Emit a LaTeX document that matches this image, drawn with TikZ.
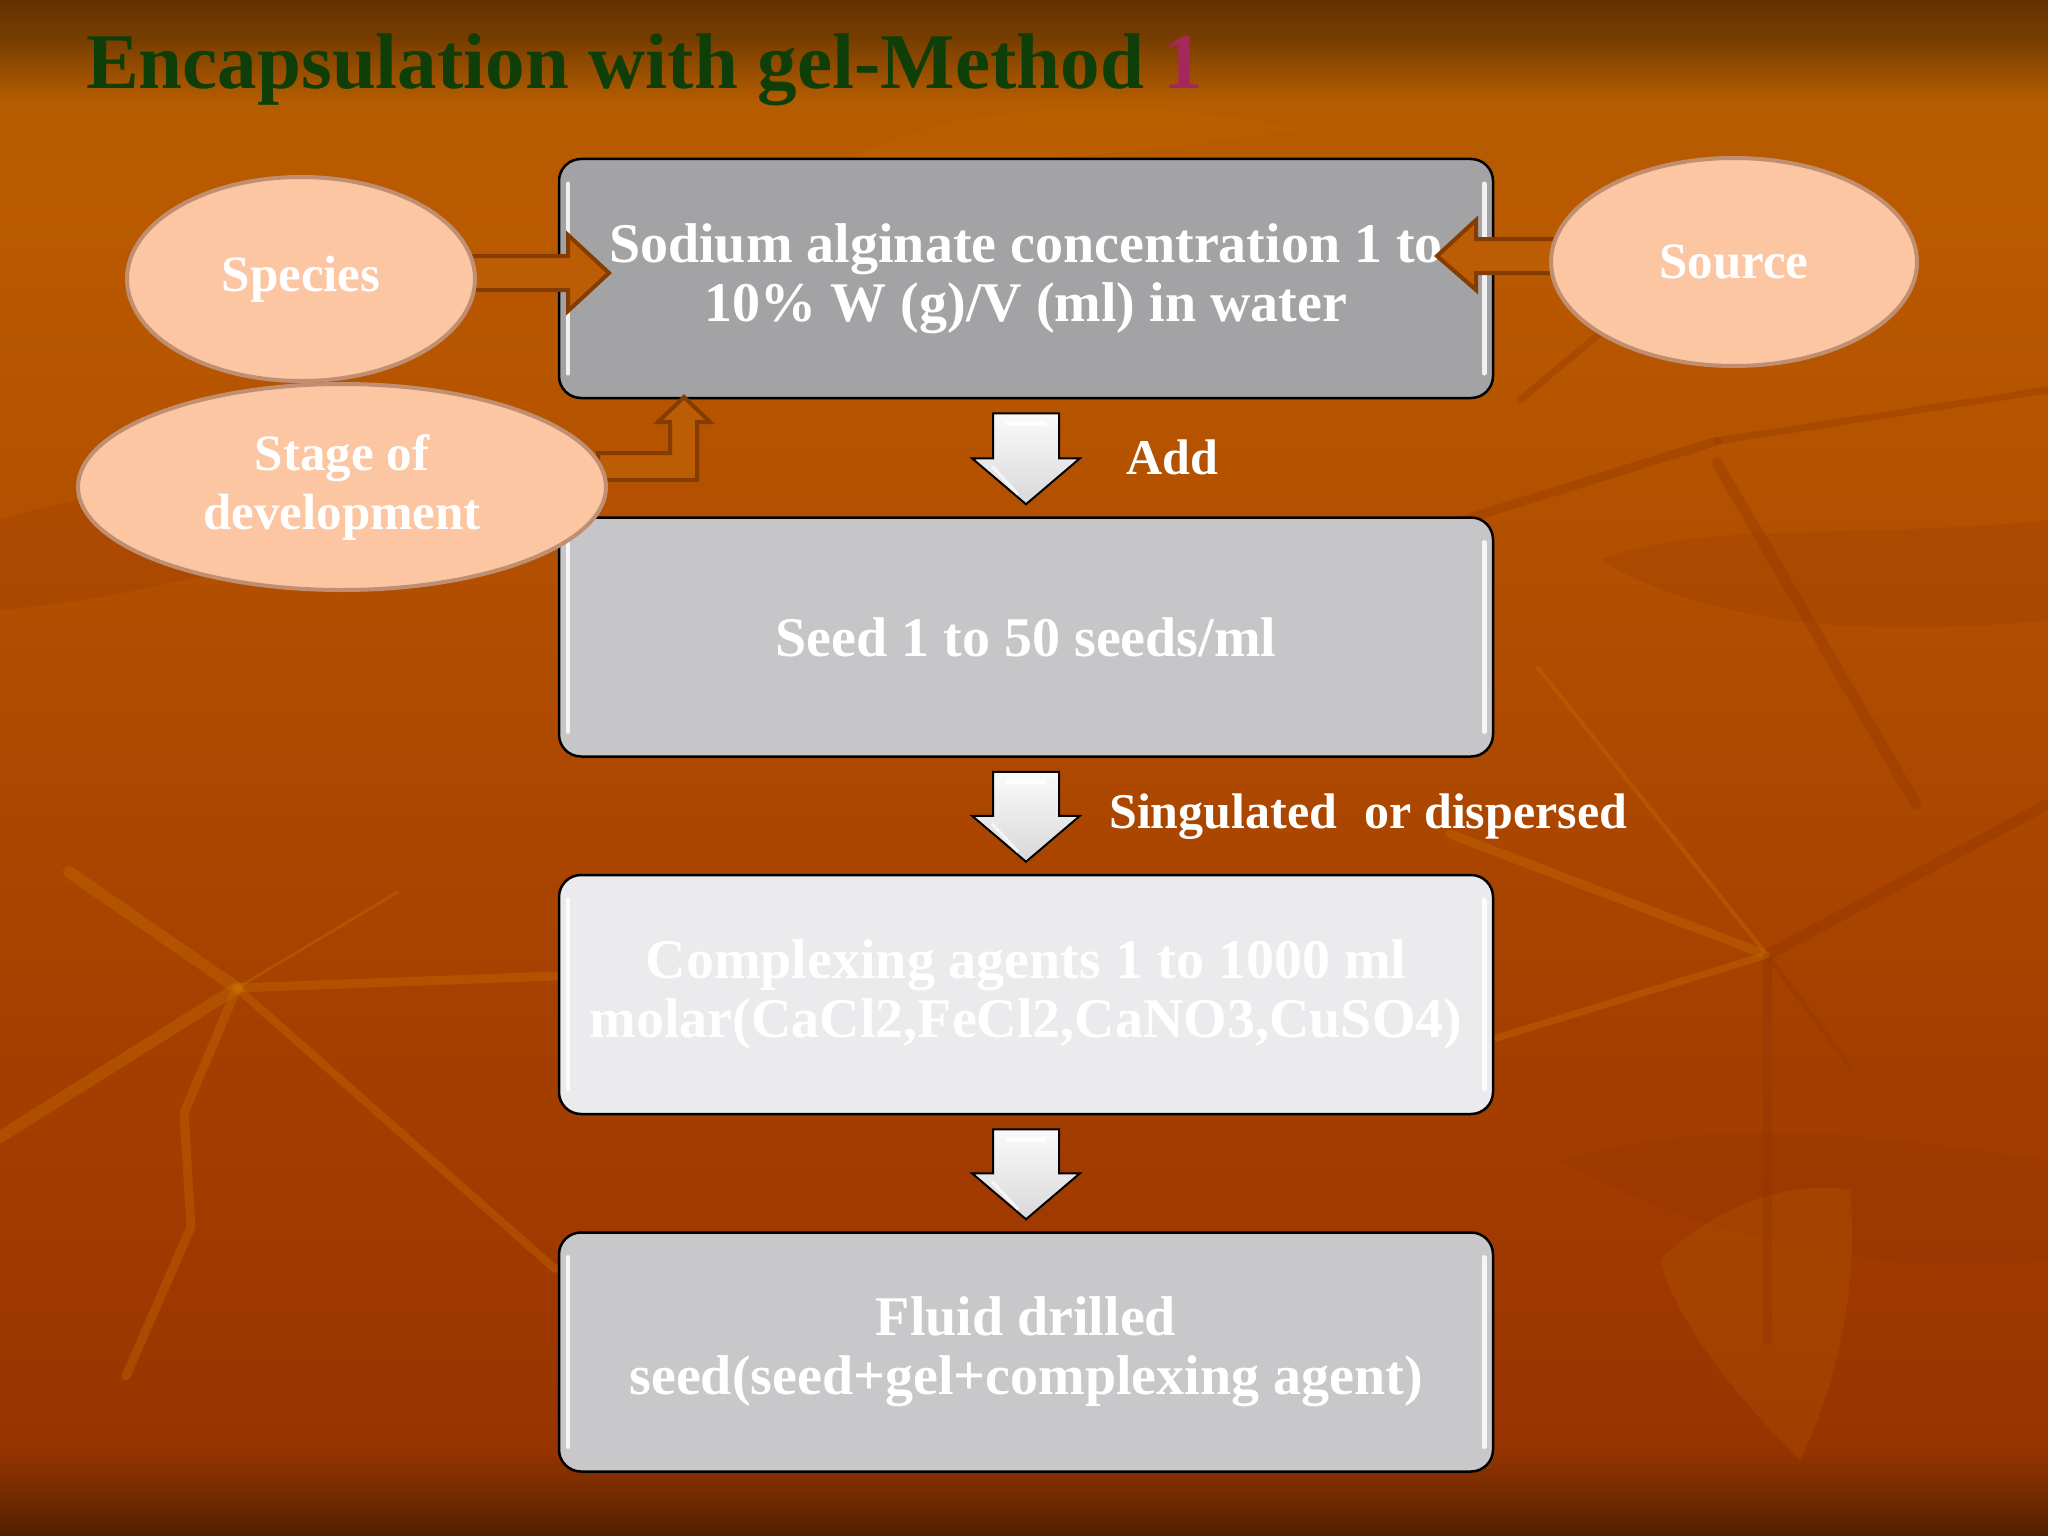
\documentclass[tikz,border=0pt]{standalone}
\usepackage{fontspec}
\setmainfont{Liberation Serif}
\usetikzlibrary{shapes.geometric}

\definecolor{titlegreen}{RGB}{16,62,8}
\definecolor{titlered}{RGB}{165,40,90}
\definecolor{peach}{RGB}{252,198,162}
\definecolor{peachborder}{RGB}{192,142,112}
\definecolor{arrowfill}{RGB}{188,92,4}
\definecolor{arrowdraw}{RGB}{132,60,0}
\definecolor{boxA}{RGB}{163,163,165}
\definecolor{boxB}{RGB}{198,198,200}
\definecolor{boxC}{RGB}{235,235,238}
\definecolor{boxD}{RGB}{200,200,202}
\definecolor{dnfill}{RGB}{226,226,228}
\definecolor{lightbranch}{RGB}{200,112,0}
\definecolor{darkbranch}{RGB}{140,50,0}

\definecolor{bgtop}{RGB}{98,50,0}
\definecolor{bgA}{RGB}{120,62,0}
\definecolor{bgB}{RGB}{180,92,0}
\definecolor{bgC}{RGB}{186,90,0}
\definecolor{bgD}{RGB}{178,78,0}
\definecolor{bgE}{RGB}{166,64,0}
\definecolor{bgF}{RGB}{158,56,0}
\definecolor{bgG}{RGB}{150,52,0}
\definecolor{bgH}{RGB}{112,42,0}
\definecolor{bgbot}{RGB}{80,30,0}

\pgfdeclareverticalshading{bgshade}{100bp}{color(0bp)=(bgbot); color(25bp)=(bgbot); color(26.17bp)=(bgH); color(27.8bp)=(bgG); color(32.68bp)=(bgF); color(42.45bp)=(bgE); color(55.47bp)=(bgD); color(68.49bp)=(bgC); color(71.74bp)=(bgB); color(73.7bp)=(bgA); color(75bp)=(bgtop); color(100bp)=(bgtop)}

\tikzset{
  flowbox/.style={draw=black, line width=2.5pt, rounded corners=22pt,
    minimum width=934pt, minimum height=239pt, inner sep=0pt,
    align=center, text=white, font=\fontsize{56}{59}\selectfont\bfseries},
  oval/.style={ellipse, draw=peachborder, line width=4pt, fill=peach, inner sep=0pt,
    align=center, text=white, font=\fontsize{51}{59}\selectfont\bfseries},
  blockarrow/.style={draw=arrowdraw, line width=4pt, fill=arrowfill, line join=miter},
  dnarrow/.style={draw=black, line width=2pt, top color=white!85!dnfill, bottom color=dnfill!90!gray, line join=miter},
  hilite/.style={draw=white, line width=4.5pt, line cap=round, opacity=0.85},
  steplabel/.style={anchor=base west, inner sep=0pt, text=white, font=\fontsize{50}{59}\selectfont\bfseries},
  branchL/.style={draw=lightbranch, line cap=round, line join=round, opacity=0.35},
  branchD/.style={draw=darkbranch, line cap=round, line join=round, opacity=0.3},
  leaf/.style={fill=#1, opacity=0.18, draw=none},
}

\newcommand\flowarrow[2]{%
  \path ([yshift=-14pt]#1.south) coordinate (fa-top) ([yshift=12pt]#2.north) coordinate (fa-tip);
  \draw[dnarrow] ([xshift=-33pt]fa-top) -- ([xshift=33pt]fa-top) -- ([xshift=33pt,yshift=46pt]fa-tip)
    -- ([xshift=54pt,yshift=46pt]fa-tip) -- (fa-tip) -- ([xshift=-54pt,yshift=46pt]fa-tip)
    -- ([xshift=-33pt,yshift=46pt]fa-tip) -- cycle;
  \draw[draw=white, line width=5pt, opacity=0.8] ([xshift=-20pt,yshift=-10pt]fa-top) -- ([xshift=20pt,yshift=-10pt]fa-top);
  \draw[draw=white, line width=3pt, opacity=0.7] ([xshift=-34pt,yshift=38pt]fa-tip) -- ([xshift=-8pt,yshift=10pt]fa-tip);
}

\begin{document}
\begin{tikzpicture}[x=1pt,y=-1pt]
\useasboundingbox (0,0) rectangle (2048,1536);
% background
\shade[shading=bgshade] (0,0) rectangle (2048,1536);
% faint leaves
\fill[leaf=lightbranch] (850,160) .. controls (950,100) and (1150,95) .. (1300,130) .. controls (1150,150) and (1000,170) .. (850,160) -- cycle;
\fill[leaf=darkbranch] (0,520) .. controls (120,480) and (300,470) .. (420,500) .. controls (300,560) and (120,600) .. (0,610) -- cycle;
\fill[leaf=darkbranch] (1560,1160) .. controls (1700,1120) and (1850,1130) .. (2048,1160) -- (2048,1260) .. controls (1900,1280) and (1700,1240) .. (1560,1160) -- cycle;
\fill[leaf=lightbranch] (1660,1260) .. controls (1720,1200) and (1800,1180) .. (1850,1190) .. controls (1860,1300) and (1830,1400) .. (1800,1460) .. controls (1740,1400) and (1680,1330) .. (1660,1260) -- cycle;
\fill[leaf=darkbranch] (1600,560) .. controls (1700,520) and (1850,540) .. (2048,520) -- (2048,620) .. controls (1850,640) and (1700,620) .. (1600,560) -- cycle;
% branches lower left
\coordinate (h1) at (237,988);
\draw[branchL, line width=12pt] (h1) -- (69,872);
\draw[branchL, line width=3pt] (h1) -- (398,892);
\draw[branchL, line width=9pt] (h1) -- (555,976);
\draw[branchL, line width=12pt] (h1) -- (0,1137);
\draw[branchL, line width=9pt] (h1) -- (184,1113) -- (191,1227) -- (126,1376);
\draw[branchL, line width=8pt] (h1) -- (555,1269);
% branches right
\coordinate (h2) at (1767,955);
\draw[branchL, line width=9pt] (h2) -- (1450,834);
\draw[branchD, line width=11pt] (h2) -- (2048,804);
\draw[branchD, line width=9pt] (h2) -- (1767,1341);
\draw[branchL, line width=4pt] (h2) -- (1538,668);
\draw[branchL, line width=7pt] (h2) -- (1496,1038);
\draw[branchD, line width=5pt] (h2) -- (1851,1068);
\draw[branchD, line width=11pt] (1717,463) -- (1916,804);
\draw[branchD, line width=9pt] (1450,524) -- (1717,441);
\draw[branchD, line width=7pt] (1520,400) -- (1640,300);
\draw[branchD, line width=7pt] (1717,441) -- (2048,390);

% title
\node[anchor=base west, inner sep=0pt, text=titlegreen, font=\fontsize{79}{90}\selectfont\bfseries] (title) at (86,89) {Encapsulation with gel-Method {\color{titlered}1}};

% boxes
\node[flowbox, fill=boxA] (b1) at (1026,278.5) {Sodium alginate concentration 1 to\\10\% W (g)/V (ml) in water};
\node[flowbox, fill=boxB] (b2) at (1026,637) {Seed 1 to 50 seeds/ml};
\node[flowbox, fill=boxC] (b3) at (1026,994.5) {Complexing agents 1 to 1000 ml\\molar(CaCl2,FeCl2,CaNO3,CuSO4)};
\node[flowbox, fill=boxD] (b4) at (1026,1352) {Fluid drilled\\seed(seed+gel+complexing agent)};

\foreach \b in {b1,b2,b3,b4}{
  \draw[hilite] ([xshift=10pt,yshift=-26pt]\b.north west) -- ([xshift=10pt,yshift=26pt]\b.south west);
  \draw[hilite] ([xshift=-10pt,yshift=-26pt]\b.north east) -- ([xshift=-10pt,yshift=26pt]\b.south east);
}

% down arrows
\flowarrow{b1}{b2}
\flowarrow{b2}{b3}
\flowarrow{b3}{b4}

% step labels
\node[steplabel] (add) at (1126,474) {Add};
\node[steplabel] (sing) at (1109,828) {Singulated\hspace{0.55em}or dispersed};

% ovals' block arrows
\coordinate (sptip) at (609,273);
\draw[blockarrow] (470,256) -- (568,256) -- (568,235) -- (sptip) -- (568,311) -- (568,290) -- (470,290) -- cycle;
\coordinate (srtip) at (1437,256);
\draw[blockarrow] (1560,239) -- (1476,239) -- (1476,220) -- (srtip) -- (1476,290) -- (1476,273) -- (1560,273) -- cycle;
\coordinate (sttip) at (684,397);
\draw[blockarrow] (598,453) -- (670,453) -- (670,422) -- (658,422) -- (sttip) -- (710,422) -- (697,422) -- (697,480) -- (598,480) -- cycle;

% ovals
\node[oval, minimum width=348pt, minimum height=204pt] (species) at (301,279) {Species};
\node[oval, minimum width=528pt, minimum height=206pt] (stage) at (342,487) {Stage of\\development};
\node[oval, minimum width=366pt, minimum height=208pt] (source) at (1734,262) {Source};
\end{tikzpicture}
\end{document}
